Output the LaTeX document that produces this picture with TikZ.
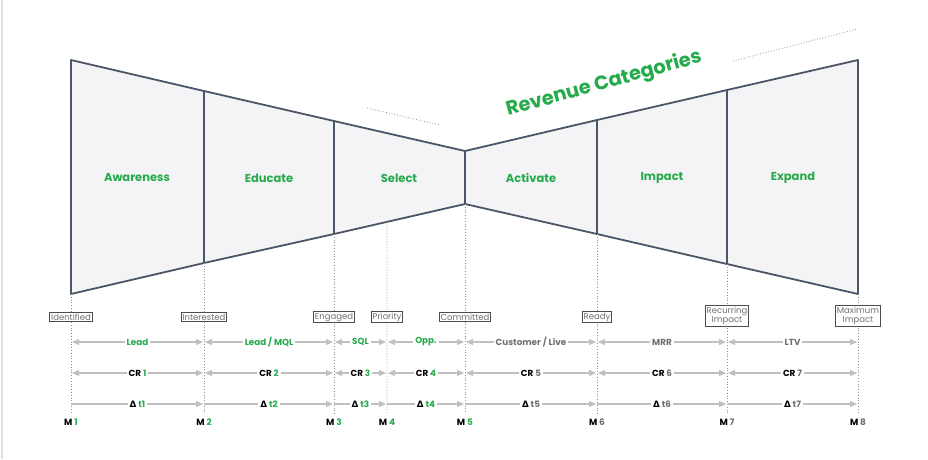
\documentclass[tikz,border=0pt]{standalone}
\usepackage{fontspec}
\setmainfont{Poppins}
\newfontfamily\deltafont{DejaVu Sans}
\usetikzlibrary{arrows.meta,positioning,calc}

\definecolor{revgreen}{RGB}{38,171,76}
\definecolor{edgeslate}{RGB}{74,85,104}
\definecolor{funnelfill}{RGB}{244,243,246}
\definecolor{spangray}{RGB}{192,192,192}
\definecolor{labelgray}{RGB}{112,112,112}
\newcommand{\gn}[1]{\textcolor{revgreen}{#1}}
\newcommand{\gy}[1]{\textcolor{labelgray}{#1}}
\newcommand{\dt}{{\deltafont\bfseries Δ}}

\tikzset{
  stage/.style={fill=funnelfill, draw=edgeslate, line width=1.8pt, line join=round},
  stagetext/.style={text=revgreen, font=\bfseries\fontsize{11.5}{13}\selectfont},
  milestone/.style={draw=black!70, line width=0.9pt, fill=white, text=labelgray, inner sep=1.5pt, font=\fontsize{8.5}{9}\selectfont, align=center},
  guideline/.style={draw=gray!85, dotted, line width=0.8pt},
  spanline/.style={draw=spangray, line width=1.2pt, {Triangle[length=7pt,width=6pt]}-{Triangle[length=7pt,width=6pt]}, shorten <=1pt, shorten >=1pt},
  spanend/.style={draw=spangray, line width=1.2pt, -{Triangle[length=7pt,width=6pt]}, shorten >=1pt},
  spanlabel/.style={fill=white, inner sep=2pt, font=\bfseries\fontsize{8.8}{10}\selectfont, midway},
  mlabel/.style={font=\bfseries\fontsize{9}{10}\selectfont}
}

\begin{document}
\begin{tikzpicture}[x=1pt,y=-1pt]
    \useasboundingbox (0,0) rectangle (928,459);
    % page edge
    \draw[gray!25, line width=1.5pt] (2,0) -- (2,459);

    % Funnel corners
    \coordinate (f1t) at (71,60);   \coordinate (f1b) at (71,294);
    \coordinate (f2t) at (204,91);  \coordinate (f2b) at (204,263);
    \coordinate (f3t) at (334,121); \coordinate (f3b) at (334,234);
    \coordinate (f4t) at (465,151); \coordinate (f4b) at (465,204);
    \coordinate (f5t) at (597,120); \coordinate (f5b) at (597,234);
    \coordinate (f6t) at (727,90);  \coordinate (f6b) at (727,264);
    \coordinate (f7t) at (858,60);  \coordinate (f7b) at (858,294);

    % Stages
    \foreach \a/\b in {1/2,2/3,3/4,4/5,5/6,6/7}
        \draw[stage] (f\a t) -- (f\b t) -- (f\b b) -- (f\a b) -- cycle;

    \node[stagetext] (awareness) at (137,178) {Awareness};
    \node[stagetext] (educate)   at (269,178) {Educate};
    \node[stagetext] (select)    at (399,178) {Select};
    \node[stagetext] (activate)  at (531,178) {Activate};
    \node[stagetext] (impact)    at (662,178) {Impact};
    \node[stagetext] (expand)    at (793,178) {Expand};

    % Revenue side title
    \node[text=revgreen, font=\bfseries\fontsize{19.5}{22}\selectfont, rotate=15.5] (revenue) at (604,84) {Revenue Categories};
    \draw[guideline] (367,108) -- (440,125);
    \draw[guideline] (733,61) -- (857,29);

    % Milestone positions
    \foreach \i/\x in {1/71,2/204,3/334,4/387,5/465,6/597,7/727,8/858} {
        \coordinate (n\i) at (\x,342);
        \coordinate (c\i) at (\x,373);
        \coordinate (t\i) at (\x,404);
        \coordinate (m\i) at (\x,414);
    }
    \coordinate (f4mid) at ($(f3b)!0.405!(f4b)$);

    % Guides down from the funnel
    \draw[guideline] (f1b) -- (m1);
    \draw[guideline] (f2b) -- (m2);
    \draw[guideline] (f3b) -- (m3);
    \draw[guideline] (f4mid) -- (m4);
    \draw[guideline] (f4b) -- (m5);
    \draw[guideline] (f5b) -- (m6);
    \draw[guideline] (f6b) -- (m7);
    \draw[guideline] (f7b) -- (m8);

    % Milestone boxes
    \node[milestone] (identified) at (71,317)  {Identified};
    \node[milestone] (interested) at (204,317) {Interested};
    \node[milestone] (engaged)    at (334,317) {Engaged};
    \node[milestone] (priority)   at (387,317) {Priority};
    \node[milestone] (committed)  at (465,317) {Committed};
    \node[milestone] (ready)      at (597,317) {Ready};
    \node[milestone] (recurring)  at (727,316) {Recurring\\Impact};
    \node[milestone] (maximum)    at (858,316) {Maximum\\Impact};

    % Row 1: categories
    \draw[spanline] (n1) -- node[spanlabel] {\gn{Lead}} (n2);
    \draw[spanline] (n2) -- node[spanlabel] {\gn{Lead / MQL}} (n3);
    \draw[spanline] (n3) -- node[spanlabel] {\gn{SQL}} (n4);
    \draw[spanline] (n4) -- node[spanlabel] {\gn{Opp.}} (n5);
    \draw[spanline] (n5) -- node[spanlabel] {\gy{Customer / Live}} (n6);
    \draw[spanline] (n6) -- node[spanlabel] {\gy{MRR}} (n7);
    \draw[spanline] (n7) -- node[spanlabel] {\gy{LTV}} (n8);

    % Row 2: conversion rates
    \draw[spanline] (c1) -- node[spanlabel] {CR \gn{1}} (c2);
    \draw[spanline] (c2) -- node[spanlabel] {CR \gn{2}} (c3);
    \draw[spanline] (c3) -- node[spanlabel] {CR \gn{3}} (c4);
    \draw[spanline] (c4) -- node[spanlabel] {CR \gn{4}} (c5);
    \draw[spanline] (c5) -- node[spanlabel] {CR \gy{5}} (c6);
    \draw[spanline] (c6) -- node[spanlabel] {CR \gy{6}} (c7);
    \draw[spanline] (c7) -- node[spanlabel] {CR \gy{7}} (c8);

    % Row 3: durations
    \draw[spanend] (t1) -- node[spanlabel] {\dt{} \gn{t1}} (t2);
    \draw[spanend] (t2) -- node[spanlabel] {\dt{} \gn{t2}} (t3);
    \draw[spanend] (t3) -- node[spanlabel] {\dt{} \gn{t3}} (t4);
    \draw[spanend] (t4) -- node[spanlabel] {\dt{} \gn{t4}} (t5);
    \draw[spanend] (t5) -- node[spanlabel] {\dt{} \gy{t5}} (t6);
    \draw[spanend] (t6) -- node[spanlabel] {\dt{} \gy{t6}} (t7);
    \draw[spanend] (t7) -- node[spanlabel] {\dt{} \gy{t7}} (t8);

    % Milestone numbers
    \foreach \i/\x/\col in {1/71/revgreen,2/204/revgreen,3/334/revgreen,4/387/revgreen,5/465/revgreen,6/597/labelgray,7/727/labelgray,8/858/labelgray}
        \node[mlabel] (mlab\i) at (\x,422) {M \textcolor{\col}{\i}};
\end{tikzpicture}
\end{document}
